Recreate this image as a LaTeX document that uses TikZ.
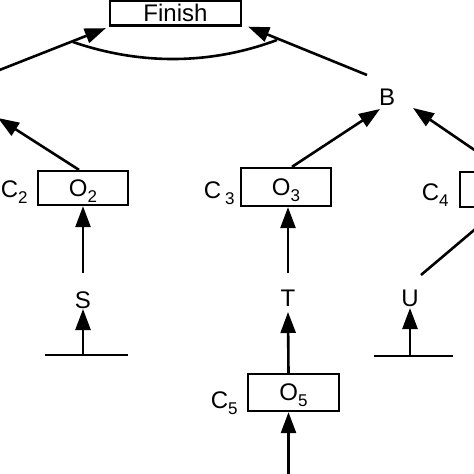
\documentclass[tikz,border=0pt]{standalone}
\usepackage{fontspec}
\setmainfont{Liberation Sans}
\usetikzlibrary{arrows.meta,calc}
\newcommand{\sbs}[1]{\raisebox{-6pt}{\fontsize{17}{17}\selectfont #1}}
\begin{document}
\begin{tikzpicture}[x=1pt,y=-1pt,
  every node/.style={font=\fontsize{24}{24}\selectfont},
  box/.style={draw,line width=2.3pt,minimum width=90pt,minimum height=35pt,inner sep=0pt,text depth=0pt},
  lbl/.style={inner sep=0pt,text depth=0pt},
  arr/.style={line width=2.6pt,-{Triangle[length=21pt,width=15pt]}},
  ln/.style={line width=2.6pt}]
\useasboundingbox (0,0) rectangle (474,474);
\clip (0,0) rectangle (474,474);
% boxes
\node[box,minimum width=131pt,minimum height=25pt] (fin) at (175.5,13) {Finish};
\node[box,minimum height=34pt] (o2) at (83,188) {O\sbs{2}};
\node[box,minimum height=38pt] (o3) at (286,187) {O\sbs{3}};
\node[box,minimum height=35pt] (o4) at (505,189.5) {};
\node[box,minimum width=91pt,minimum height=37pt] (o5) at (293.5,392.5) {O\sbs{5}};
% C labels
\node[lbl,anchor=east] (c2) at ($(o2.west)+(-9,1)$) {C\sbs{2}};
\node[lbl,anchor=east] (c3) at ($(o3.west)+(-5,3)$) {C\,\sbs{3}};
\node[lbl,anchor=east] (c4) at ($(o4.west)+(-10,3)$) {C\sbs{4}};
\node[lbl,anchor=east] (c5) at ($(o5.west)+(-9,8)$) {C\sbs{5}};
% letters
\node[lbl] (B) at (387,97) {B};
\node[lbl] (S) at (83,300) {S};
\node[lbl] (T) at (288,298) {T};
\node[lbl] (U) at (410,298) {U};
% free ends
\coordinate (ain) at (-3,71);
\coordinate (aend) at (-2,118);
\coordinate (gS) at (83,355);
\coordinate (gSl) at (45,355);
\coordinate (gSr) at (128,355);
\coordinate (gU) at (410,356);
\coordinate (gUl) at (374,356);
\coordinate (gUr) at (453,356);
\coordinate (bot) at (288.5,480);
\coordinate (arcl) at (73,42);
\coordinate (arcr) at (277,40);
% connectors
\draw[arr] (ain) -- ($(fin.south west)+(-3,1.5)$);
\draw[arr] ($(B)+(-20,-22)$) -- ($(fin.south east)+(6,0)$);
\draw[ln] (arcl) .. controls (140,65) and (210,65) .. (arcr);
\draw[arr] ($(o2.north)+(-4,0)$) -- (aend);
\draw[arr] ($(o3.north)+(6,0)$) -- ($(B)+(-7,12)$);
\draw[arr] (o4.north) -- ($(B)+(26,11)$);
\draw[arr] ($(S)+(0,-27)$) -- (o2.south);
\draw[ln] (gSl) -- (gSr);
\draw[arr] (gS) -- ($(S)+(0,9)$);
\draw[arr] ($(T)+(0,-25)$) -- ($(o3.south)+(2,0)$);
\draw[arr] ($(o5.north)+(-5,0)$) -- ($(T)+(0,14)$);
\draw[arr] (bot) -- ($(o5.south)+(-5,0)$);
\draw[arr] ($(U)+(11,-23)$) -- ($(o4.south)+(-5,0)$);
\draw[ln] (gUl) -- (gUr);
\draw[arr] (gU) -- ($(U)+(0,10)$);
\end{tikzpicture}
\end{document}
